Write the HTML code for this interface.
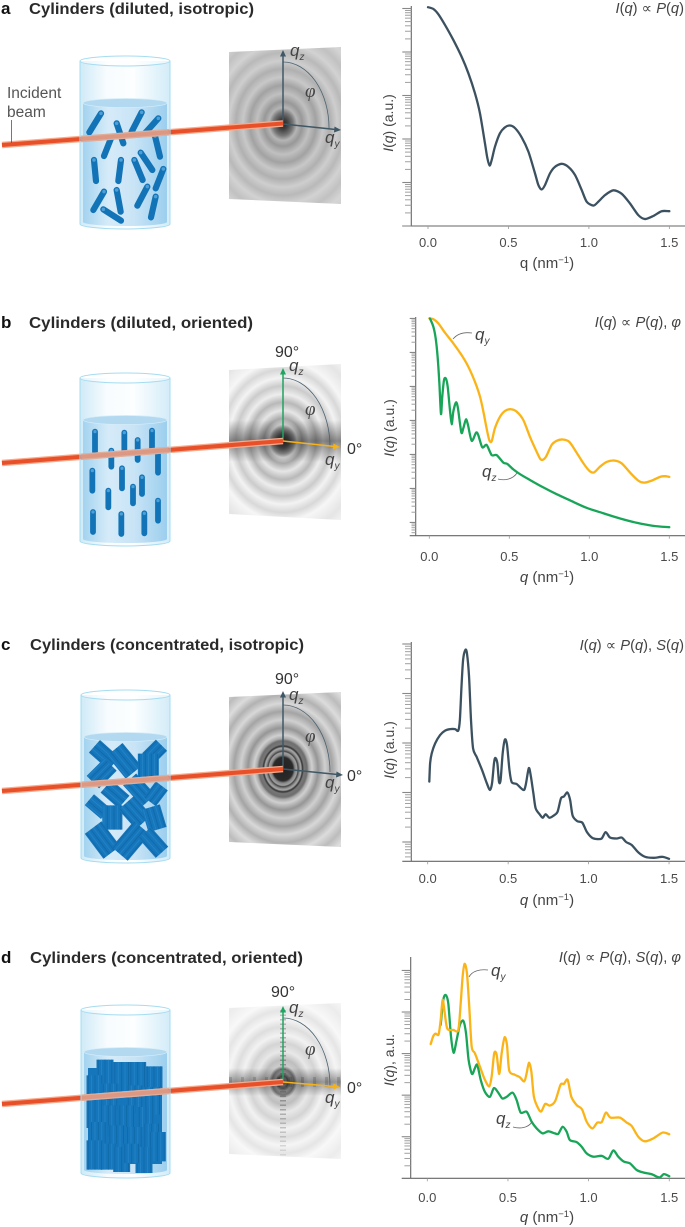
<!DOCTYPE html>
<html lang="en">
<head>
<meta charset="utf-8">
<title>Cylinder scattering patterns</title>
<style>
html,body{margin:0;padding:0;background:#fff;width:685px;height:1227px;overflow:hidden}
svg{display:block;font-family:"Liberation Sans",sans-serif}
.ttl{font-size:15.5px;font-weight:700;fill:#2a2a2a}
.ltr{font-size:17px;font-weight:700;fill:#111}
.eq{font-size:14.7px;fill:#444}
.i{font-style:italic}
.yl{font-size:14px;fill:#444}
.xl{font-size:15px;fill:#444}
.qq{font-size:17px;font-style:italic;fill:#444}
.sub{font-size:10px;font-style:italic}
.deg{font-size:16px;fill:#333}
.phi{font-size:19px;font-style:italic;fill:#444;font-family:"Liberation Serif",serif}
</style>
</head>
<body>
<svg xmlns="http://www.w3.org/2000/svg" width="685" height="1227" viewBox="0 0 685 1227">
<defs id="defs">
<linearGradient id="glass" x1="0" x2="1" y1="0" y2="0"><stop offset="0" stop-color="#cfeaf7"/><stop offset=".3" stop-color="#f8fcfe"/><stop offset=".6" stop-color="#fcfeff"/><stop offset="1" stop-color="#d3ecf8"/></linearGradient>
<linearGradient id="liquid" x1="0" x2="1" y1="0" y2="0"><stop offset="0" stop-color="#a3d3ef"/><stop offset=".3" stop-color="#d6ebf9"/><stop offset=".6" stop-color="#c9e4f6"/><stop offset="1" stop-color="#9ccfee"/></linearGradient>
<linearGradient id="band" x1="0" x2="0" y1="0" y2="1"><stop offset="0" stop-color="#000" stop-opacity="0"/><stop offset=".5" stop-color="#000" stop-opacity=".62"/><stop offset="1" stop-color="#000" stop-opacity="0"/></linearGradient>
<linearGradient id="streakFade" gradientUnits="userSpaceOnUse" x1="0" x2="0" y1="1010" y2="1158"><stop offset="0" stop-color="#777" stop-opacity=".4"/><stop offset=".5" stop-color="#555" stop-opacity=".6"/><stop offset="1" stop-color="#888" stop-opacity=".2"/></linearGradient>
</defs>
<g id="illustrations"></g>

<g>
<text class="ltr" x="1" y="14">a</text>
<text class="ltr" x="1" y="328">b</text>
<text class="ltr" x="1" y="650">c</text>
<text class="ltr" x="1" y="963">d</text>
<text class="ttl" x="29" y="14" textLength="225" lengthAdjust="spacingAndGlyphs">Cylinders (diluted, isotropic)</text>
<text class="ttl" x="29" y="328" textLength="224" lengthAdjust="spacingAndGlyphs">Cylinders (diluted, oriented)</text>
<text class="ttl" x="30" y="650" textLength="274" lengthAdjust="spacingAndGlyphs">Cylinders (concentrated, isotropic)</text>
<text class="ttl" x="30" y="963" textLength="273" lengthAdjust="spacingAndGlyphs">Cylinders (concentrated, oriented)</text>
</g>

<g>
<text x="7" y="98" font-size="15.5" fill="#555">Incident</text>
<text x="7" y="117" font-size="15.5" fill="#555">beam</text>
<line x1="11.5" y1="120" x2="11.5" y2="143" stroke="#555" stroke-width=".8"/>
</g>

<g id="detector-labels">
<text class="qq" x="290" y="56">q<tspan class="sub" dy="4">z</tspan></text>
<text class="qq" x="325" y="143">q<tspan class="sub" dy="4">y</tspan></text>
<text class="phi" x="305" y="97">φ</text>

<text class="qq" x="289" y="371">q<tspan class="sub" dy="4">z</tspan></text>
<text class="qq" x="325" y="465">q<tspan class="sub" dy="4">y</tspan></text>
<text class="phi" x="305" y="415">φ</text>
<text class="deg" x="275" y="357">90°</text>
<text class="deg" x="347" y="454">0°</text>

<text class="qq" x="289" y="700">q<tspan class="sub" dy="4">z</tspan></text>
<text class="qq" x="325" y="788">q<tspan class="sub" dy="4">y</tspan></text>
<text class="phi" x="305" y="742">φ</text>
<text class="deg" x="275" y="684">90°</text>
<text class="deg" x="347" y="781">0°</text>

<text class="qq" x="289" y="1013">q<tspan class="sub" dy="4">z</tspan></text>
<text class="qq" x="325" y="1103">q<tspan class="sub" dy="4">y</tspan></text>
<text class="phi" x="305" y="1055">φ</text>
<text class="deg" x="271" y="997">90°</text>
<text class="deg" x="347" y="1093">0°</text>
</g>

<g id="charts"></g>

<g>
<text class="eq" x="684" y="13" text-anchor="end"><tspan class="i">I</tspan>(<tspan class="i">q</tspan>) ∝ <tspan class="i">P</tspan>(<tspan class="i">q</tspan>)</text>
<text class="eq" x="681" y="327" text-anchor="end"><tspan class="i">I</tspan>(<tspan class="i">q</tspan>) ∝ <tspan class="i">P</tspan>(<tspan class="i">q</tspan>), <tspan class="i">φ</tspan></text>
<text class="eq" x="684" y="650" text-anchor="end"><tspan class="i">I</tspan>(<tspan class="i">q</tspan>) ∝ <tspan class="i">P</tspan>(<tspan class="i">q</tspan>), <tspan class="i">S</tspan>(<tspan class="i">q</tspan>)</text>
<text class="eq" x="681" y="962" text-anchor="end"><tspan class="i">I</tspan>(<tspan class="i">q</tspan>) ∝ <tspan class="i">P</tspan>(<tspan class="i">q</tspan>), <tspan class="i">S</tspan>(<tspan class="i">q</tspan>), <tspan class="i">φ</tspan></text>

<text class="yl" transform="translate(393,123) rotate(-90)" text-anchor="middle"><tspan class="i">I</tspan>(<tspan class="i">q</tspan>) (a.u.)</text>
<text class="yl" transform="translate(394,428) rotate(-90)" text-anchor="middle"><tspan class="i">I</tspan>(<tspan class="i">q</tspan>) (a.u.)</text>
<text class="yl" transform="translate(394,750) rotate(-90)" text-anchor="middle"><tspan class="i">I</tspan>(<tspan class="i">q</tspan>) (a.u.)</text>
<text class="yl" transform="translate(394,1060) rotate(-90)" text-anchor="middle"><tspan class="i">I</tspan>(<tspan class="i">q</tspan>), a.u.</text>

<text class="xl" x="547" y="268" text-anchor="middle">q (nm<tspan font-size="9.5" dy="-5">−1</tspan><tspan dy="5">)</tspan></text>
<text class="xl" x="547" y="582" text-anchor="middle"><tspan class="i">q</tspan> (nm<tspan font-size="9.5" dy="-5">−1</tspan><tspan dy="5">)</tspan></text>
<text class="xl" x="547" y="905" text-anchor="middle"><tspan class="i">q</tspan> (nm<tspan font-size="9.5" dy="-5">−1</tspan><tspan dy="5">)</tspan></text>
<text class="xl" x="547" y="1222" text-anchor="middle"><tspan class="i">q</tspan> (nm<tspan font-size="9.5" dy="-5">−1</tspan><tspan dy="5">)</tspan></text>

<text class="qq" x="475" y="340">q<tspan class="sub" dy="4">y</tspan></text>
<text class="qq" x="482" y="477">q<tspan class="sub" dy="4">z</tspan></text>
<text class="qq" x="491" y="976">q<tspan class="sub" dy="4">y</tspan></text>
<text class="qq" x="496" y="1124">q<tspan class="sub" dy="4">z</tspan></text>
<path d="M453 339 C458 333 465 332 472 333" fill="none" stroke="#666" stroke-width=".8"/>
<path d="M498 479 C505 481 513 479 517 473" fill="none" stroke="#666" stroke-width=".8"/>
<path d="M469 977 C472 971 480 969 488 970" fill="none" stroke="#666" stroke-width=".8"/>
<path d="M513 1127 C520 1129 528 1128 532 1122" fill="none" stroke="#666" stroke-width=".8"/>
</g>
</svg>

<script>
// ---- chart data: scattering vector q (nm^-1) and log intensity (decades) ----
var tickLabels = ["0.0", "0.5", "1.0", "1.5"];
var tickValues = [0, 0.5, 1, 1.5];

var qA = [0,.033,.064,.106,.157,.209,.251,.292,.323,.354,.369,.383,.396,.416,.447,.479,.51,.541,.582,.624,.665,.686,.706,.727,.758,.789,.831,.872,.914,.955,.986,1.028,1.059,1.1,1.152,1.204,1.255,1.307,1.349,1.4,1.452,1.5];
var iA = [5.03,4.99,4.87,4.62,4.28,3.89,3.51,3.05,2.59,1.9,1.56,1.39,1.52,1.82,2.13,2.27,2.31,2.25,2.04,1.71,1.21,.94,.84,.94,1.21,1.36,1.43,1.36,1.17,.83,.56,.47,.56,.71,.82,.74,.52,.25,.16,.23,.34,.34];
var decadesA = [0,1,2,3,4,5];

var qByB = [0,.025,.056,.098,.15,.202,.244,.285,.317,.338,.358,.375,.39,.41,.442,.473,.51,.546,.588,.629,.671,.692,.708,.729,.765,.796,.833,.875,.917,.963,1,1.029,1.067,1.108,1.156,1.202,1.254,1.306,1.342,1.39,1.442,1.473,1.5];
var iyB = [6.39,6.37,6.25,5.97,5.66,5.31,4.97,4.53,4.09,3.65,3.16,2.81,2.78,3.16,3.5,3.67,3.72,3.65,3.4,2.91,2.47,2.27,2.23,2.32,2.67,2.79,2.83,2.76,2.47,2.13,1.91,1.86,2.03,2.17,2.21,2.13,1.86,1.62,1.56,1.62,1.73,1.75,1.73];
var qzB = [.004,.025,.04,.052,.063,.073,.081,.092,.104,.115,.129,.14,.15,.167,.179,.2,.2125,.229,.242,.265,.292,.306,.331,.358,.39,.421,.463,.4875,.525,.567,.629,.7125,.796,.879,.983,1.0875,1.19,1.296,1.4,1.5];
var izB = [6.39,6.15,5.8,5.26,4.48,3.58,4.09,4.58,4.62,4.38,3.7,3.28,3.65,3.92,3.75,3.04,3.16,3.42,3.25,2.79,3.03,2.96,2.6,2.67,2.37,2.37,2.15,2.11,1.95,1.81,1.64,1.42,1.22,1.04,.82,.66,.51,.38,.29,.25];
var decadesB = [.39,1.39,2.39,3.39,4.39,5.39,6.39];

var qC = [.01,.015,.025,.046,.077,.108,.139,.17,.19,.2,.21,.22,.234,.244,.257,.269,.282,.304,.337,.367,.387,.4,.412,.42,.433,.443,.453,.466,.48,.493,.508,.522,.553,.595,.609,.628,.64,.657,.671,.698,.715,.733,.756,.781,.807,.828,.847,.868,.885,.901,.93,.961,.988,1.02,1.05,1.081,1.106,1.133,1.175,1.206,1.233,1.268,1.309,1.351,1.403,1.46,1.5];
var iC = [1.61,1.98,2.18,2.38,2.55,2.64,2.67,2.67,2.64,2.86,3.53,4.07,4.27,4.2,3.73,2.86,2.28,2.11,1.85,1.58,1.44,1.58,1.98,2.09,1.98,1.61,1.64,2.18,2.46,2.35,1.85,1.6,1.56,1.44,1.54,1.88,1.74,1.37,1.07,.94,.88,.95,.88,.92,1,1.27,1.31,1.39,1.24,.92,.81,.78,.6,.48,.45,.46,.59,.48,.46,.48,.39,.33,.18,.09,.07,.09,.05];
var decadesC = [.39,1.39,2.39,3.39,4.39];

var qyD = [.021,.037,.052,.07,.083,.095,.107,.124,.161,.192,.207,.219,.231,.246,.26,.275,.295,.326,.357,.384,.399,.415,.43,.446,.461,.479,.494,.508,.543,.574,.601,.616,.63,.645,.661,.688,.707,.731,.76,.793,.826,.847,.87,.893,.926,.959,.988,1.023,1.054,1.081,1.107,1.136,1.194,1.236,1.267,1.308,1.349,1.401,1.459,1.5];
var iyD = [3.23,3.42,3.48,3.46,3.81,4.29,4.01,3.6,3.57,3.57,4.21,4.85,5.16,4.93,4.13,3.17,3.01,2.69,2.37,2.21,2.45,3.01,2.97,2.51,3.01,3.39,3.21,2.59,2.49,2.43,2.33,2.53,2.78,2.57,1.96,1.68,1.61,1.79,1.75,1.86,2.25,2.27,2.37,1.96,1.76,1.66,1.36,1.2,1.34,1.35,1.58,1.46,1.46,1.34,1.26,1,.89,.96,1.1,1.06];
var qzD = [.083,.099,.114,.13,.147,.163,.182,.202,.223,.24,.256,.277,.295,.31,.331,.357,.388,.413,.44,.465,.492,.529,.554,.579,.616,.647,.678,.715,.75,.791,.812,.839,.864,.884,.926,.957,.988,1.029,1.081,1.122,1.153,1.184,1.219,1.256,1.298,1.339,1.39,1.438,1.467,1.5];
var izD = [3.69,4.29,4.41,4.21,3.41,3.02,3.33,3.69,3.79,3.49,2.85,2.51,2.65,2.73,2.37,2.08,1.96,2.17,2.06,1.92,1.96,2.06,1.88,1.58,1.6,1.36,1.2,1.08,1.13,1.08,1.07,1.24,1.12,.92,.87,.76,.6,.52,.54,.47,.67,.52,.4,.36,.2,.14,.1,.02,.1,.05];
var decadesD = [1,2,3,4,5];

var NS = "http://www.w3.org/2000/svg";
function mk(tag, parent, attrs) {
  var el = document.createElementNS(NS, tag);
  for (var k in attrs) el.setAttribute(k, attrs[k]);
  parent.appendChild(el);
  return el;
}

// Smooth path through points (Catmull-Rom)
function smoothPath(xs, ys) {
  var n = xs.length, d = "M" + xs[0].toFixed(2) + " " + ys[0].toFixed(2), t = 0.14;
  for (var i = 0; i < n - 1; i++) {
    var x0 = xs[Math.max(i - 1, 0)], y0 = ys[Math.max(i - 1, 0)];
    var x1 = xs[i], y1 = ys[i], x2 = xs[i + 1], y2 = ys[i + 1];
    var x3 = xs[Math.min(i + 2, n - 1)], y3 = ys[Math.min(i + 2, n - 1)];
    d += "C" + (x1 + (x2 - x0) * t).toFixed(2) + " " + (y1 + (y2 - y0) * t).toFixed(2) + " " +
      (x2 - (x3 - x1) * t).toFixed(2) + " " + (y2 - (y3 - y1) * t).toFixed(2) + " " +
      x2.toFixed(2) + " " + y2.toFixed(2);
  }
  return d;
}

function drawChart(c) {
  var root = document.getElementById("charts");
  var g = mk("g", root, {});
  
  
  function X(q) { return c.q0 + q * c.sx; }
  function Y(v) { return c.base - v * c.dec; }
  var ax = mk("line", g, {x1: c.axisX, x2: c.axisX, y1: c.top, y2: c.base, stroke: "#666", "stroke-width": 1.1});
  
  
  var xa = mk("line", g, {x1: c.axisX - c.tl, x2: 685, y1: c.base, y2: c.base, stroke: "#666", "stroke-width": 1.1});
  
  
  c.decades.forEach(function (d) {
    var maj = mk("line", g, {x1: c.axisX - c.tl, x2: c.axisX, y1: Y(d), y2: Y(d), stroke: "#888", "stroke-width": 1.1});
    
    
    for (var n = 2; n <= 9; n++) {
      var v = d - 1 + Math.log10(n);
      if (Y(v) > c.base) continue;
      var mi = mk("line", g, {x1: c.axisX - c.tl * 0.7, x2: c.axisX, y1: Y(v), y2: Y(v), stroke: "#a0a0a0", "stroke-width": 1});
      
      
    }
  });
  tickValues.forEach(function (t, i) {
    var tk = mk("line", g, {x1: X(t), x2: X(t), y1: c.base, y2: c.base + 3, stroke: "#999", "stroke-width": 0.8});
    
    
    var lb = mk("text", g, {x: X(t), y: c.labelY, "text-anchor": "middle", "font-size": 13, fill: "#4a4a4a"});
    
    
    lb.textContent = tickLabels[i];
  });
  c.series.forEach(function (s) {
    var p = mk("path", g, {d: smoothPath(s.q.map(X), s.i.map(Y)), fill: "none", stroke: s.color, "stroke-width": 2.3, "stroke-linejoin": "round", "stroke-linecap": "round"});
    
    
  });
}

drawChart({id: "a", q0: 428, sx: 160.9, base: 226, dec: 43.5, axisX: 411.3, top: 6, tl: 9, labelY: 247, decades: decadesA,
  series: [{q: qA, i: iA, color: "#3c5160", name: "form-factor-line"}]});
drawChart({id: "b", q0: 429.3, sx: 160, base: 535.7, dec: 34, axisX: 415.7, top: 317, tl: 6, labelY: 561, decades: decadesB,
  series: [{q: qByB, i: iyB, color: "#fbb417", name: "qy-line"}, {q: qzB, i: izB, color: "#18a558", name: "qz-line"}]});
drawChart({id: "c", q0: 427.7, sx: 160.9, base: 861.3, dec: 49.5, axisX: 411.3, top: 642, tl: 9, labelY: 883, decades: decadesC,
  series: [{q: qC, i: iC, color: "#3c5160", name: "intensity-line"}]});
drawChart({id: "d", q0: 427.3, sx: 161.3, base: 1178.3, dec: 41.57, axisX: 410.7, top: 957, tl: 9, labelY: 1202, decades: decadesD,
  series: [{q: qzD, i: izD, color: "#18a558", name: "qz-line"}, {q: qyD, i: iyD, color: "#fbb417", name: "qy-line"}]});
</script>

<script>
// ---- schematic illustrations (not chart data) ----
var illo = document.getElementById("illustrations");
var defs = document.getElementById("defs");

function ringGradient(id, cx, cy, stops) {
  var R = 115;
  var gr = mk("radialGradient", defs, {id: id, gradientUnits: "userSpaceOnUse", cx: cx, cy: cy, r: R,
    gradientTransform: "translate(" + cx + " " + cy + ") scale(1 1.17) translate(" + (-cx) + " " + (-cy) + ")"});
  stops.forEach(function (s) { mk("stop", gr, {offset: s[0] / R, "stop-color": s[1]}); });
}
ringGradient("ringsA", 283, 124, [[0,"#222"],[5,"#444"],[10,"#777"],[14,"#b5b5b5"],[19,"#989898"],[26,"#c0c0c0"],[33,"#a2a2a2"],[40,"#c8c8c8"],[47,"#b0b0b0"],[54,"#cecece"],[61,"#b9b9b9"],[68,"#d2d2d2"],[76,"#c1c1c1"],[84,"#d5d5d5"],[96,"#cacaca"],[115,"#d2d2d2"]]);
ringGradient("ringsB", 283, 441, [[0,"#333"],[6,"#555"],[11,"#999"],[14,"#dcdcdc"],[19,"#a8a8a8"],[26,"#e6e6e6"],[33,"#b8b8b8"],[40,"#ededed"],[47,"#cbcbcb"],[54,"#f3f3f3"],[61,"#d8d8d8"],[68,"#f6f6f6"],[80,"#e5e5e5"],[92,"#f8f8f8"],[115,"#f4f4f4"]]);
ringGradient("ringsC", 283, 769, [[0,"#222"],[10,"#2a2a2a"],[12,"#888"],[14,"#a0a0a0"],[15,"#444"],[16.5,"#888"],[18,"#aaa"],[19.5,"#333"],[21,"#777"],[24,"#6e6e6e"],[26,"#aaa"],[29,"#d0d0d0"],[35,"#969696"],[42,"#d0d0d0"],[49,"#a4a4a4"],[56,"#d8d8d8"],[63,"#b2b2b2"],[70,"#dcdcdc"],[78,"#bcbcbc"],[86,"#dfdfdf"],[96,"#c6c6c6"],[115,"#e8e8e8"]]);
ringGradient("ringsD", 283, 1082, [[0,"#555"],[3,"#888"],[5,"#555"],[8,"#999"],[11,"#777"],[14,"#ccc"],[19,"#bebebe"],[26,"#e8e8e8"],[33,"#d4d4d4"],[40,"#f2f2f2"],[47,"#dedede"],[54,"#f5f5f5"],[61,"#e5e5e5"],[68,"#f8f8f8"],[80,"#ececec"],[92,"#fafafa"],[115,"#f6f6f6"]]);

// Rod endpoints are in 3x-zoom coordinates relative to a panel origin
var rodsA = [[303,340,268,397],[350,370,370,430],[425,337,395,395],[475,355,433,402],[335,410,312,468],[465,408,480,470],[282,480,288,543],[363,480,355,543],[403,480,428,540],[422,458,457,510],[490,507,467,565],[442,560,412,617],[312,575,280,630],[350,570,362,635],[467,590,453,652],[310,628,363,662]];
var rodsB = [[285,275,285,335],[373,278,373,338],[413,300,413,360],[456,272,456,332],[334,332,334,380],[474,337,474,398],[277,392,277,452],[366,385,366,445],[426,412,426,462],[399,440,399,490],[325,452,325,502],[279,516,279,576],[364,522,364,582],[433,520,433,580],[474,482,474,542]];
var bundlesC = [[290,265,335,305,40],[350,275,395,330,48],[478,262,450,290,38],[445,290,445,350,50],[325,320,285,360,42],[325,385,365,420,40],[395,365,440,415,42],[480,385,455,418,36],[275,425,310,455,34],[337,445,337,500,48],[385,435,425,480,50],[455,450,470,500,45],[285,510,330,570,50],[420,510,365,575,50],[440,525,480,570,40]];
var bundlesD = [[315,278,345],[365,285,360],[413,285,355],[462,298,365],[285,325,400],[330,350,410],[405,355,420],[458,360,425],[285,395,465],[325,415,490],[380,415,480],[438,420,490],[295,465,530],[350,475,540],[403,480,545],[455,470,540],[472,495,565],[285,520,590],[325,530,590],[365,540,597],[432,540,600],[395,530,570]];

function beaker(g, id, top, x0, x1, liqTop, liqBot) {
  var cx = (x0 + x1) / 2, rx = (x1 - x0) / 2;
  var bot = top + 163;
  var glass = mk("path", g, {d: "M" + x0 + " " + top + " L" + x0 + " " + bot + " A" + rx + " 5 0 0 0 " + x1 + " " + bot + " L" + x1 + " " + top + " Z", fill: "url(#glass)"});
  
  
  var liq = mk("path", g, {d: "M" + (x0 + 3) + " " + liqTop + " L" + (x0 + 3) + " " + liqBot + " A" + (rx - 3) + " 4 0 0 0 " + (x1 - 3) + " " + liqBot + " L" + (x1 - 3) + " " + liqTop + " Z", fill: "url(#liquid)"});
  
  
  var surf = mk("ellipse", g, {cx: cx, cy: liqTop, rx: rx - 3, ry: 4.5, fill: "#b3d9f1", stroke: "#d5edf9", "stroke-width": 0.7});
  
  
}
function beakerFront(g, id, top, x0, x1) {
  var cx = (x0 + x1) / 2, rx = (x1 - x0) / 2, bot = top + 163;
  var o = mk("path", g, {d: "M" + x0 + " " + top + " L" + x0 + " " + bot + " A" + rx + " 5 0 0 0 " + x1 + " " + bot + " L" + x1 + " " + top, fill: "none", stroke: "#a5dcf0", "stroke-width": 1});
  
  
  var e = mk("ellipse", g, {cx: cx, cy: top, rx: rx, ry: 5, fill: "#ffffff", "fill-opacity": 0.5, stroke: "#a5dcf0", "stroke-width": 1});
  
  
}
function beam(g, id, y0, y1, px, py) {
  var slope = (py - y0) / (px - 2);
  var yAt = function (x) { return y0 + (x - 2) * slope; };
  var glow = mk("line", g, {x1: 2, y1: y0, x2: px, y2: py, stroke: "#f6ab8d", "stroke-width": 6.5});
  
  
  var core = mk("line", g, {x1: 2, y1: y0, x2: px, y2: py, stroke: "#e8502a", "stroke-width": 4});
  
  
  var thru = mk("line", g, {x1: 81, y1: yAt(81), x2: 169, y2: yAt(169), stroke: "#d9ad9c", "stroke-opacity": 0.78, "stroke-width": 6.5});
  
  
}
function detector(g, id, pts, grad, extra) {
  var cp = mk("clipPath", defs, {id: "clip" + id});
  mk("polygon", cp, {points: pts});
  var p = mk("polygon", g, {points: pts, fill: "url(#" + grad + ")"});
  
  
  if (extra) extra(mk("g", g, {"clip-path": "url(#clip" + id + ")"}));
}
function axes(g, id, cx, cy, zTip, yTipX, yTipY, zCol, yCol, arcTop, arcEndX, arcEndY) {
  var arc = mk("path", g, {d: "M" + cx + " " + arcTop + " A" + (arcEndX - cx) + " " + (arcEndY - arcTop) + " 0 0 1 " + arcEndX + " " + arcEndY, fill: "none", stroke: "#4a6270", "stroke-width": 0.8});
  
  
  var z = mk("line", g, {x1: cx, y1: cy, x2: cx, y2: zTip + 4, stroke: zCol, "stroke-width": 1.5});
  
  
  var zh = mk("polygon", g, {points: cx + "," + zTip + " " + (cx - 3) + "," + (zTip + 6.5) + " " + (cx + 3) + "," + (zTip + 6.5), fill: zCol});
  
  
  var y = mk("line", g, {x1: cx, y1: cy, x2: yTipX - 3, y2: yTipY - 0.3, stroke: yCol, "stroke-width": 1.5});
  
  
  var yh = mk("polygon", g, {points: yTipX + "," + yTipY + " " + (yTipX - 6.5) + "," + (yTipY - 3.5) + " " + (yTipX - 7) + "," + (yTipY + 2.5), fill: yCol});
  
  
}
function rod(g, x1, y1, x2, y2, w) {
  var r = mk("line", g, {x1: x1, y1: y1, x2: x2, y2: y2, stroke: "#1274b6", "stroke-width": w, "stroke-linecap": "round"});
  
  
  var c = mk("circle", g, {cx: x1, cy: y1, r: w * 0.28, fill: "#4f9fd6"});
  
  
}
function bundle(g, x1, y1, x2, y2, w) {
  var dx = x2 - x1, dy = y2 - y1, L = Math.hypot(dx, dy);
  var ux = dx / L, uy = dy / L;
  x1 -= ux * 3; y1 -= uy * 3; x2 += ux * 3; y2 += uy * 3;
  var b = mk("line", g, {x1: x1, y1: y1, x2: x2, y2: y2, stroke: "#1676bb", "stroke-width": w});
  
  
  var nx = -uy, ny = ux;
  var k = Math.max(3, Math.round(w / 3.2));
  for (var i = 0; i < k; i++) {
    var o = (i + 0.5) / k * w - w / 2;
    var s = mk("line", g, {x1: x1 + nx * o, y1: y1 + ny * o, x2: x2 + nx * o, y2: y2 + ny * o, stroke: i % 2 ? "#2483c6" : "#1069a9", "stroke-width": 0.9});
    
    
  }
}

// Panel a
(function () {
  var g = mk("g", illo, {});
  
  
  beaker(g, "a", 61, 80, 170, 103, 222);
  rodsA.forEach(function (r) { rod(g, r[0] / 3, r[1] / 3, r[2] / 3, r[3] / 3, 6.2); });
  detector(g, "a", "229,52 341,47 341,204 229,199", "ringsA");
  axes(g, "a", 283, 124, 50, 341, 130, "#3f5866", "#3f5866", 62, 329, 128);
  beam(g, "a", 145, 123, 283, 123.5);
  beakerFront(g, "a", 61, 80, 170);
})();

// Panel b
(function () {
  var g = mk("g", illo, {});
  
  
  beaker(g, "b", 378, 80, 170, 420, 539);
  rodsB.forEach(function (r) { rod(g, r[0] / 3, 340 + r[1] / 3, r[2] / 3, 340 + r[3] / 3, 5.8); });
  detector(g, "b", "229,370 341,364 341,520 229,514", "ringsB", function (c) {
    var b = mk("rect", c, {x: 229, y: 420, width: 112, height: 42, fill: "url(#band)", opacity: 0.7});
    
    
  });
  axes(g, "b", 283, 441, 368, 340, 447, "#1ea562", "#f5b21a", 378, 330, 447);
  beam(g, "b", 463, 441, 283, 441);
  beakerFront(g, "b", 378, 80, 170);
})();

// Panel c
(function () {
  var g = mk("g", illo, {});
  
  
  beaker(g, "c", 695, 81, 170, 737, 856);
  bundlesC.forEach(function (r) { bundle(g, r[0] / 3, 660 + r[1] / 3, r[2] / 3, 660 + r[3] / 3, r[4] * 0.42); });
  detector(g, "c", "229,697 341,692 341,847 229,842", "ringsC");
  axes(g, "c", 283, 769, 691, 343, 775, "#3f5866", "#3f5866", 705, 330, 772);
  beam(g, "c", 791, 769, 283, 769);
  beakerFront(g, "c", 695, 81, 170);
})();

// Panel d
(function () {
  var g = mk("g", illo, {});
  
  
  beaker(g, "d", 1010, 81, 170, 1052, 1170);
  var block = mk("rect", g, {x: 88, y: 1068, width: 74, height: 96, fill: "#1676bb"});
  
  
  bundlesD.forEach(function (r) { bundle(g, r[0] / 3, 970 + r[1] / 3, r[0] / 3, 970 + r[2] / 3, 17); });
  detector(g, "d", "229,1008 341,1003 341,1159 229,1154", "ringsD", function (c) {
    var b = mk("rect", c, {x: 229, y: 1068, width: 112, height: 28, fill: "url(#band)", opacity: 0.6});
    
    
    var s = mk("line", c, {x1: 283, y1: 1010, x2: 283, y2: 1158, stroke: "url(#streakFade)", "stroke-width": 6, "stroke-dasharray": "1.5 3"});
    
    
    var h = mk("line", c, {x1: 229, y1: 1082, x2: 341, y2: 1082, stroke: "#222", "stroke-opacity": 0.18, "stroke-width": 10, "stroke-dasharray": "3 9"});
    
    
  });
  axes(g, "d", 283, 1082, 1006, 340, 1087, "#1ea562", "#f5b21a", 1018, 330, 1086);
  beam(g, "d", 1104, 1082, 283, 1082);
  beakerFront(g, "d", 1010, 81, 170);
})();
</script>
</body>
</html>
